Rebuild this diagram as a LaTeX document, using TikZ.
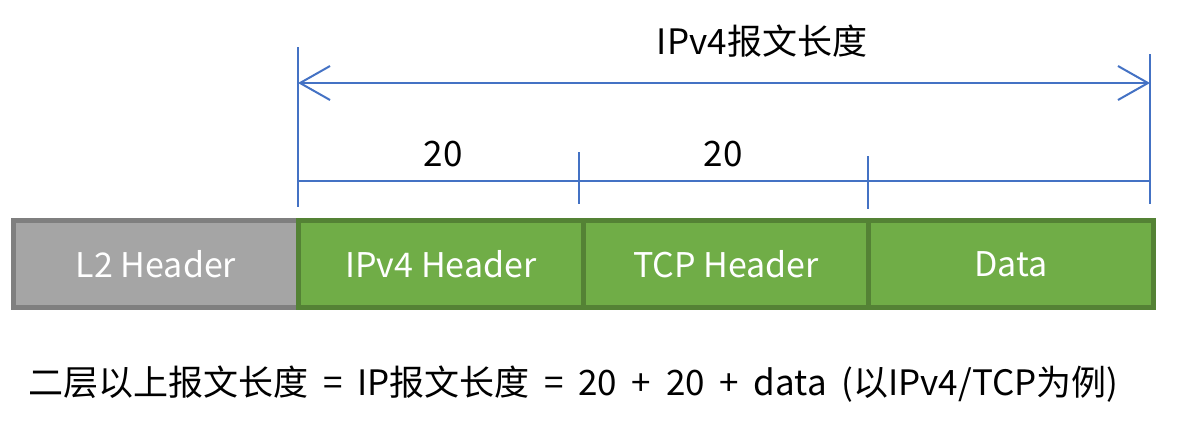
\documentclass[tikz,border=0pt]{standalone}
\usepackage{fontspec}
\setmainfont{Noto Sans CJK SC}
\usetikzlibrary{arrows.meta,positioning}
\definecolor{hdrgray}{HTML}{A5A5A5}
\definecolor{hdrgrayline}{HTML}{7F7F7F}
\definecolor{ipgreen}{HTML}{70AD47}
\definecolor{ipgreenline}{HTML}{548235}
\definecolor{dimblue}{HTML}{4472C4}
\begin{document}
\begin{tikzpicture}[x=0.5pt,y=-0.5pt,
    field/.style={draw=ipgreenline, fill=ipgreen, line width=2.5pt,
        minimum width=142.5pt, minimum height=43.25pt, outer sep=0pt,
        inner sep=0pt, text=white, font=\fontsize{17}{20}\selectfont},
    dimline/.style={draw=dimblue, line width=1pt},
    barb/.tip={Straight Barb[length=15pt,width=17pt]},
    lbl/.style={inner sep=0pt, font=\fontsize{17.5}{21}\selectfont}]
    \useasboundingbox (0,0) rectangle (1189,430);

    % Packet fields
    \node[field, draw=hdrgrayline, fill=hdrgray] (l2) at (156,264) {L2 Header};
    \node[field, right=0pt of l2] (ipv4) {IPv4 Header};
    \node[field, right=0pt of ipv4] (tcp) {TCP Header};
    \node[field, right=0pt of tcp] (data) {Data};

    % Dimension line end points
    \coordinate (lt) at (298,47);
    \coordinate (lb) at (298,207);
    \coordinate (rt) at (1150,54);
    \coordinate (rb) at (1150,204);
    \coordinate (la) at (298,83);
    \coordinate (ra) at (1150,83);
    \coordinate (ld) at (298,181);
    \coordinate (rd) at (1150,181);
    \coordinate (t1t) at (579,152);
    \coordinate (t1b) at (579,204);
    \coordinate (t2t) at (868,156);
    \coordinate (t2b) at (868,209);

    % Dimension lines
    \draw[dimline] (lt) -- (lb);
    \draw[dimline] (rt) -- (rb);
    \draw[dimline, barb-barb] (la) -- (ra);
    \draw[dimline] (ld) -- (rd);
    \draw[dimline] (t1t) -- (t1b);
    \draw[dimline] (t2t) -- (t2b);

    % Labels
    \node[lbl] (total) at (762,41) {IPv4报文长度};
    \node[lbl] (len1) at (443,154) {20};
    \node[lbl] (len2) at (723,154) {20};
    \node[lbl, anchor=west] (sum) at (28,384)
        {\spaceskip=0.42em\relax
         二层以上报文长度 = IP报文长度 = 20 + 20 + data (以IPv4/TCP为例)};
\end{tikzpicture}
\end{document}
